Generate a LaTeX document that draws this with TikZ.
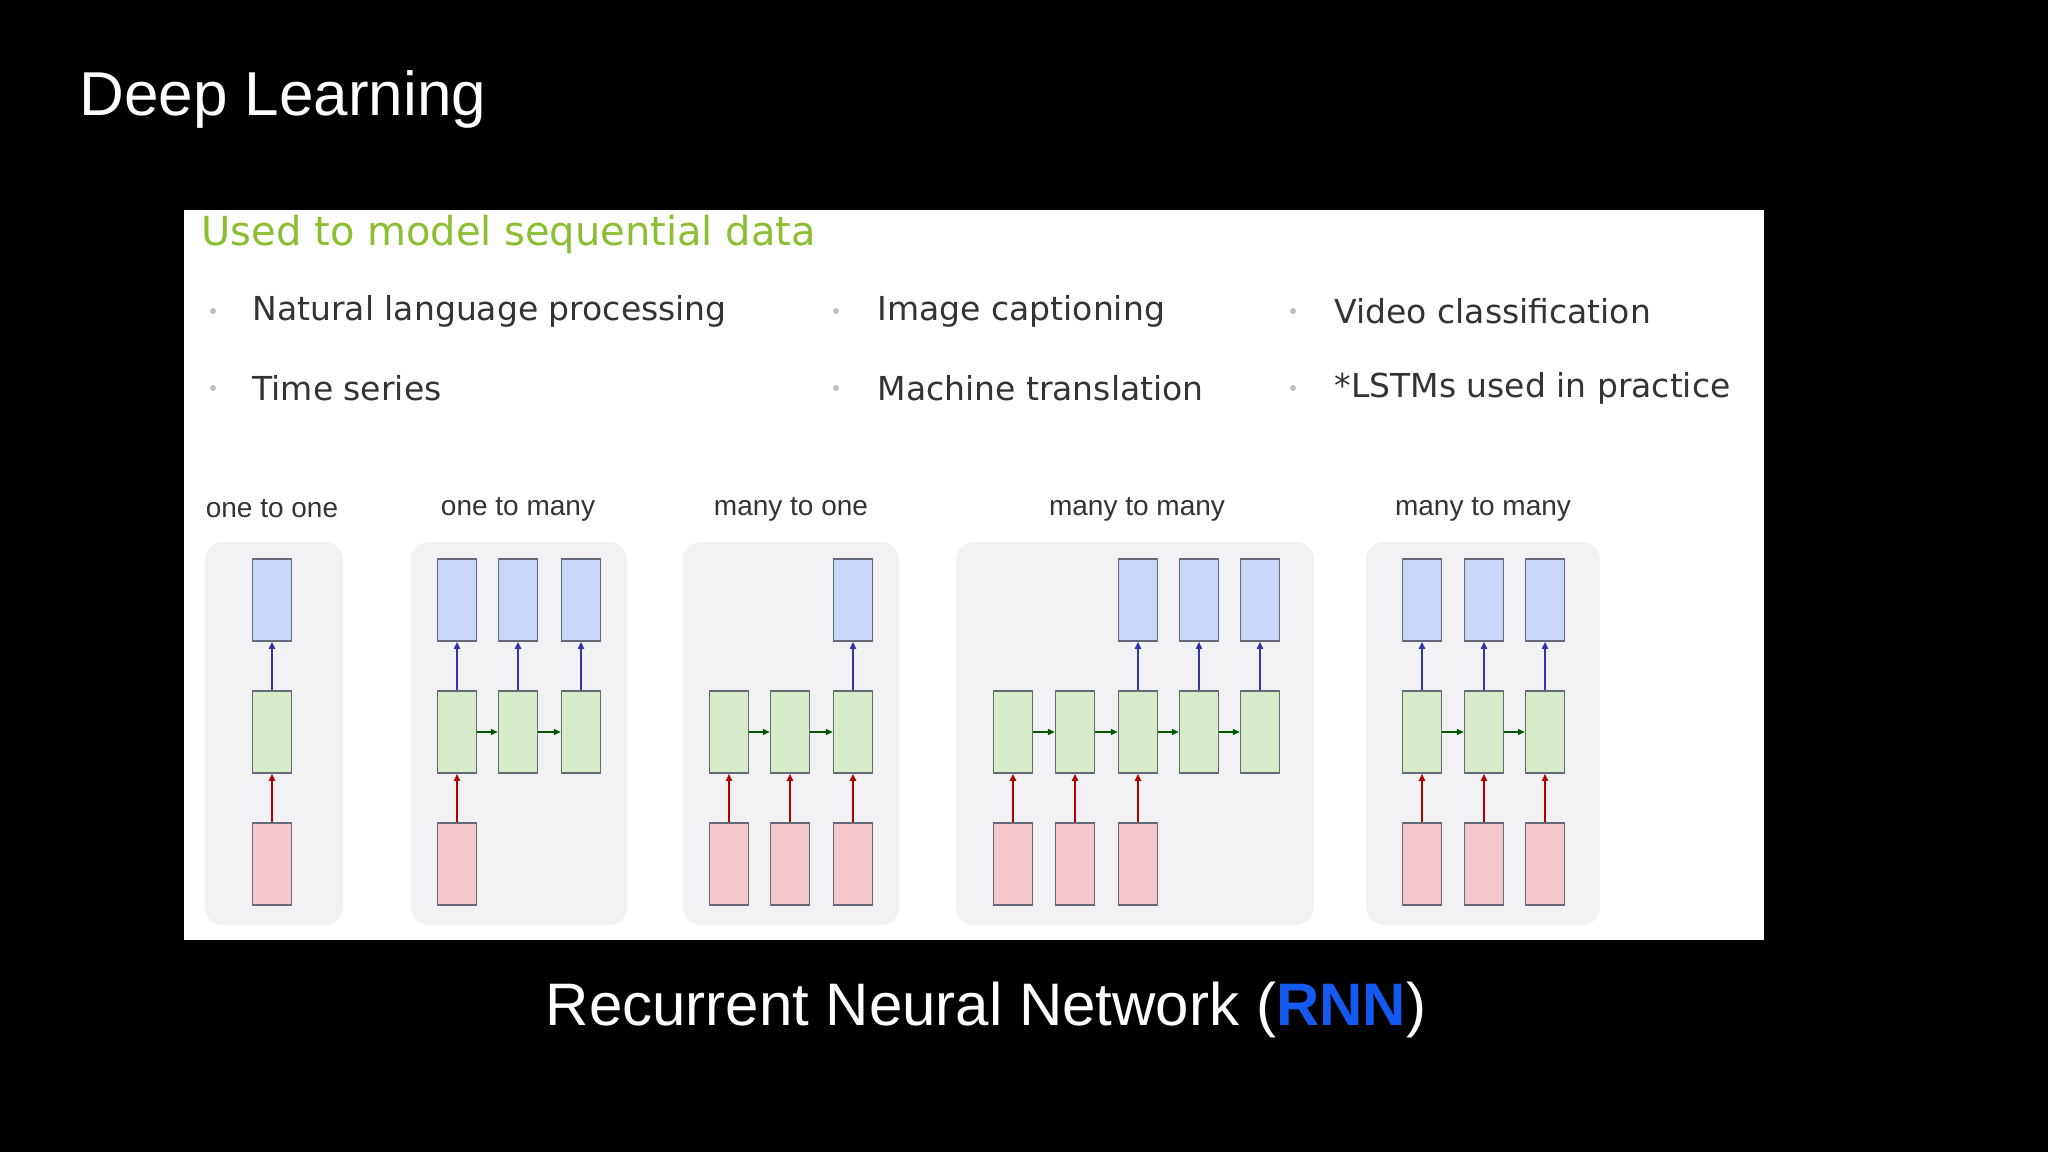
\documentclass[tikz,border=0pt]{standalone}
\usepackage{fontspec}
\setmainfont{Liberation Sans}
\newfontfamily\bul{DejaVu Sans}
\usetikzlibrary{arrows.meta}
\definecolor{hgreen}{RGB}{140,190,50}
\definecolor{bfill}{RGB}{200,215,250}
\definecolor{gfill}{RGB}{215,235,200}
\definecolor{rfill}{RGB}{245,200,205}
\definecolor{panel}{RGB}{242,242,244}
\definecolor{rnn}{RGB}{20,90,240}
\definecolor{edge}{RGB}{100,105,120}
\begin{document}
\begin{tikzpicture}[x=1pt,y=-1pt,
  bx/.style={draw=edge,line width=1.5pt,minimum width=39pt,minimum height=82pt,inner sep=0},
  bb/.style={bx,fill=bfill}, gb/.style={bx,fill=gfill}, rb/.style={bx,fill=rfill},
  pan/.style={fill=panel,rounded corners=18pt},
  ar/.style={line width=2pt,-{Triangle[length=7pt,width=6pt]}},
  bul/.style={anchor=west,font=\bul\fontsize{33}{36}\selectfont,text=black!80},
  dot/.style={circle,fill=black!25,inner sep=0,minimum size=6pt},
  lab/.style={font=\fontsize{28}{30}\selectfont,text=black!80}]
\fill[black] (0,0) rectangle (2048,1152);
\node[anchor=base west,text=white,font=\fontsize{62}{66}\selectfont] (title) at (76,115) {Deep Learning};
\fill[white] (184,210) rectangle (1764,940);
\node[anchor=west,text=hgreen,font=\bul\fontsize{40}{44}\selectfont] (head) at (198,234) {Used to model sequential data};
\foreach \x/\tx/\y/\t [count=\i] in {213/257/311/Natural language processing,836/882/311/Image captioning,1293/1339/311/Video classification,213/257/388/Time series,836/882/388/Machine translation,1293/1339/388/*LSTMs used in practice}{
  \node[dot] (d\i) at (\x,\y) {};
  \node[bul] (t\i) at (\tx-8,\y) {\t};
}
\foreach \x/\t [count=\i] in {272/one to one,518/one to many,791/many to one,1137/many to many,1483/many to many}
  \node[lab] (l\i) at (\x,509) {\t};
\fill[pan] (205,542) rectangle (343,925);
\fill[pan] (411,542) rectangle (627,925);
\fill[pan] (683,542) rectangle (899,925);
\fill[pan] (956,542) rectangle (1314,925);
\fill[pan] (1366,542) rectangle (1600,925);
% columns: name x hasblue hasred
\foreach \n/\x/\b/\r in {a1/272/1/1, b1/457/1/1,b2/518/1/0,b3/581/1/0, c1/729/0/1,c2/790/0/1,c3/853/1/1,
  d1/1013/0/1,d2/1075/0/1,d3/1138/1/1,d4/1199/1/0,d5/1260/1/0, e1/1422/1/1,e2/1484/1/1,e3/1545/1/1}{
  \node[gb] (g\n) at (\x,732) {};
  \ifnum\b=1 \node[bb] (u\n) at (\x,600) {}; \draw[ar,blue!60!black!80] (g\n.north) -- (u\n.south);\fi
  \ifnum\r=1 \node[rb] (r\n) at (\x,864) {}; \draw[ar,red!70!black] (r\n.north) -- (g\n.south);\fi
}
\foreach \p/\q in {b1/b2,b2/b3,c1/c2,c2/c3,d1/d2,d2/d3,d3/d4,d4/d5,e1/e2,e2/e3}
  \draw[ar,green!35!black,line width=1.5pt] (g\p.east) -- (g\q.west);
\node[anchor=base,text=white,font=\fontsize{60}{64}\selectfont] (cap) at (986,1025) {Recurrent Neural Network (\textcolor{rnn}{\textbf{RNN}})};
\end{tikzpicture}
\end{document}
